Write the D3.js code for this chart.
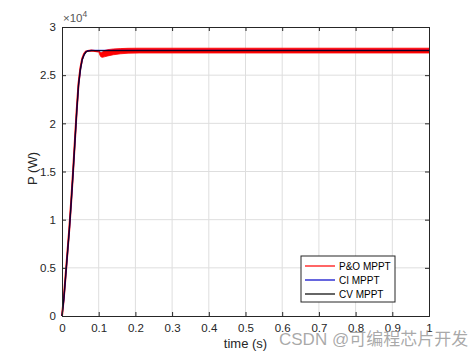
<!DOCTYPE html>
<html>
<head>
<meta charset="utf-8">
<script src="https://cdn.jsdelivr.net/npm/d3@7"></script>
<style>
  body { margin: 0; background: #fff; }
  svg { font-family: 'Liberation Sans', Arial, sans-serif; }
</style>
</head>
<body>
<div id="chart"></div>
<script>
// time axis (s) and power (x10^4 W)
const riseTime = [0, 0.005, 0.01, 0.015, 0.02, 0.025, 0.03, 0.035, 0.04, 0.045, 0.05, 0.055, 0.06, 0.065, 0.07, 0.08, 0.09, 0.1]
const cvRise = [0, 0.18, 0.42, 0.66, 0.9, 1.18, 1.48, 1.8, 2.12, 2.4, 2.56, 2.66, 2.71, 2.74, 2.75, 2.755, 2.755, 2.755]
const ciRise = [0, 0.17, 0.41, 0.65, 0.89, 1.17, 1.47, 1.79, 2.11, 2.39, 2.55, 2.66, 2.71, 2.74, 2.752, 2.758, 2.758, 2.756]
const poRise = [0, 0.19, 0.43, 0.67, 0.91, 1.19, 1.49, 1.81, 2.13, 2.41, 2.57, 2.67, 2.72, 2.745, 2.752, 2.755, 2.75, 2.745]

const flatTime = [0.12, 0.2, 0.3, 0.4, 0.5, 0.6, 0.7, 0.8, 0.9, 1.0]
const cvFlat = [2.755, 2.755, 2.755, 2.755, 2.755, 2.755, 2.755, 2.755, 2.755, 2.755]
const ciFlat = [2.757, 2.757, 2.757, 2.757, 2.757, 2.757, 2.757, 2.757, 2.757, 2.757]

// P&O after 0.1 s: dip, then an oscillating band (upper / lower envelope)
const poTime = [0.1, 0.103, 0.106, 0.11, 0.115, 0.125, 0.14, 0.16, 0.18, 0.21, 0.3, 0.4, 0.5, 0.6, 0.7, 0.8, 0.9, 1.0]
const poUpper = [2.75, 2.745, 2.73, 2.74, 2.755, 2.765, 2.772, 2.776, 2.779, 2.78, 2.78, 2.78, 2.78, 2.78, 2.78, 2.78, 2.78, 2.78]
const poLower = [2.745, 2.71, 2.69, 2.685, 2.69, 2.7, 2.712, 2.722, 2.728, 2.73, 2.73, 2.73, 2.73, 2.73, 2.73, 2.73, 2.73, 2.73]

const xTicks = [0, 0.1, 0.2, 0.3, 0.4, 0.5, 0.6, 0.7, 0.8, 0.9, 1]
const yTicks = [0, 0.5, 1, 1.5, 2, 2.5, 3]
const legendNames = ['P&O MPPT', 'CI MPPT', 'CV MPPT']
const colors = ['#ff0000', '#0000c8', '#000000']

const width = 474
const height = 355
const margin = { left: 62, right: 45, top: 27, bottom: 39 }
const innerWidth = width - margin.left - margin.right
const innerHeight = height - margin.top - margin.bottom

const svg = d3.select('#chart').append('svg')
  .attr('width', width)
  .attr('height', height)

const g = svg.append('g')
  .attr('transform', `translate(${margin.left},${margin.top})`)

const xScale = d3.scaleLinear().domain([0, 1]).range([0, innerWidth])
const yScale = d3.scaleLinear().domain([0, 3]).range([innerHeight, 0])

// grid
g.append('g').selectAll('line').data(xTicks.slice(1, -1)).join('line')
  .attr('x1', d => xScale(d)).attr('x2', d => xScale(d))
  .attr('y1', 0).attr('y2', innerHeight)
  .attr('stroke', '#dedede').attr('stroke-width', 1)
g.append('g').selectAll('line').data(yTicks.slice(1, -1)).join('line')
  .attr('y1', d => yScale(d)).attr('y2', d => yScale(d))
  .attr('x1', 0).attr('x2', innerWidth)
  .attr('stroke', '#dedede').attr('stroke-width', 1)

// series
const toPts = (t, v) => t.map((d, i) => [d, v[i]])
const ciData = toPts(riseTime, ciRise).concat(toPts(flatTime, ciFlat))
const cvData = toPts(riseTime, cvRise).concat(toPts(flatTime, cvFlat))
const line = d3.line().x(d => xScale(d[0])).y(d => yScale(d[1]))

// P&O: rise as a line, then the noisy band as an area
g.append('path').datum(toPts(riseTime, poRise))
  .attr('d', line).attr('fill', 'none')
  .attr('stroke', colors[0]).attr('stroke-width', 2)
const band = poTime.map((t, i) => ({ t: t, hi: poUpper[i], lo: poLower[i] }))
g.append('path').datum(band)
  .attr('d', d3.area().x(d => xScale(d.t)).y0(d => yScale(d.lo)).y1(d => yScale(d.hi)))
  .attr('fill', colors[0]).attr('stroke', colors[0]).attr('stroke-width', 0.8)

g.append('path').datum(ciData)
  .attr('d', line).attr('fill', 'none')
  .attr('stroke', colors[1]).attr('stroke-width', 1.3)
  .attr('stroke-opacity', 0.8)
g.append('path').datum(cvData)
  .attr('d', line).attr('fill', 'none')
  .attr('stroke', colors[2]).attr('stroke-width', 1.3)
  .attr('stroke-opacity', 0.75)

// axes
const axisColor = '#262626'
const xAxis = d3.axisBottom(xScale).tickValues(xTicks).tickSize(-4).tickPadding(8)
  .tickFormat(d3.format('~g'))
const yAxis = d3.axisLeft(yScale).tickValues(yTicks).tickSize(-4).tickPadding(6)
  .tickFormat(d3.format('~g'))

g.append('g').attr('transform', `translate(0,${innerHeight})`).call(xAxis)
g.append('g').call(yAxis)
g.append('g').call(d3.axisTop(xScale).tickValues(xTicks).tickSize(-4).tickFormat(''))
g.append('g').attr('transform', `translate(${innerWidth},0)`)
  .call(d3.axisRight(yScale).tickValues(yTicks).tickSize(-4).tickFormat(''))

g.selectAll('.domain').attr('stroke', axisColor)
g.selectAll('.tick line').attr('stroke', axisColor)
g.selectAll('.tick text').attr('fill', axisColor).style('font-size', '11.5px')
  .style('font-family', "'Liberation Sans', Arial, sans-serif")

// exponent label
const expo = svg.append('text')
  .attr('x', margin.left + 1).attr('y', margin.top - 5)
  .attr('fill', '#555').style('font-size', '11.5px')
expo.append('tspan').text('\u00d710')
expo.append('tspan').attr('dy', -5).style('font-size', '8.5px').text('4')

// axis titles
svg.append('text')
  .attr('x', margin.left + innerWidth / 2).attr('y', 348)
  .attr('text-anchor', 'middle').attr('fill', axisColor)
  .style('font-size', '13px').text('time (s)')
svg.append('text')
  .attr('transform', `translate(37,${margin.top + innerHeight / 2 - 3}) rotate(-90)`)
  .attr('text-anchor', 'middle').attr('fill', axisColor)
  .style('font-size', '13px').text('P (W)')

// legend
const lg = svg.append('g').attr('transform', 'translate(301,256)')
lg.append('rect').attr('width', 94).attr('height', 46)
  .attr('fill', '#fff').attr('stroke', axisColor).attr('stroke-width', 1)
legendNames.forEach((name, i) => {
  const y = 10 + i * 14
  lg.append('line').attr('x1', 4).attr('x2', 34).attr('y1', y).attr('y2', y)
    .attr('stroke', colors[i]).attr('stroke-width', 1.2)
  lg.append('text').attr('x', 38).attr('y', y + 3.5)
    .attr('fill', '#000').style('font-size', '10px').text(name)
})

// watermark
svg.append('text')
  .attr('x', 279).attr('y', 345)
  .attr('fill', '#9a9a9a').attr('fill-opacity', 0.85)
  .style('font-size', '17px')
  .style('font-family', "'Liberation Sans', 'Noto Sans CJK SC', sans-serif")
  .text('CSDN @可编程芯片开发')
</script>
</body>
</html>
